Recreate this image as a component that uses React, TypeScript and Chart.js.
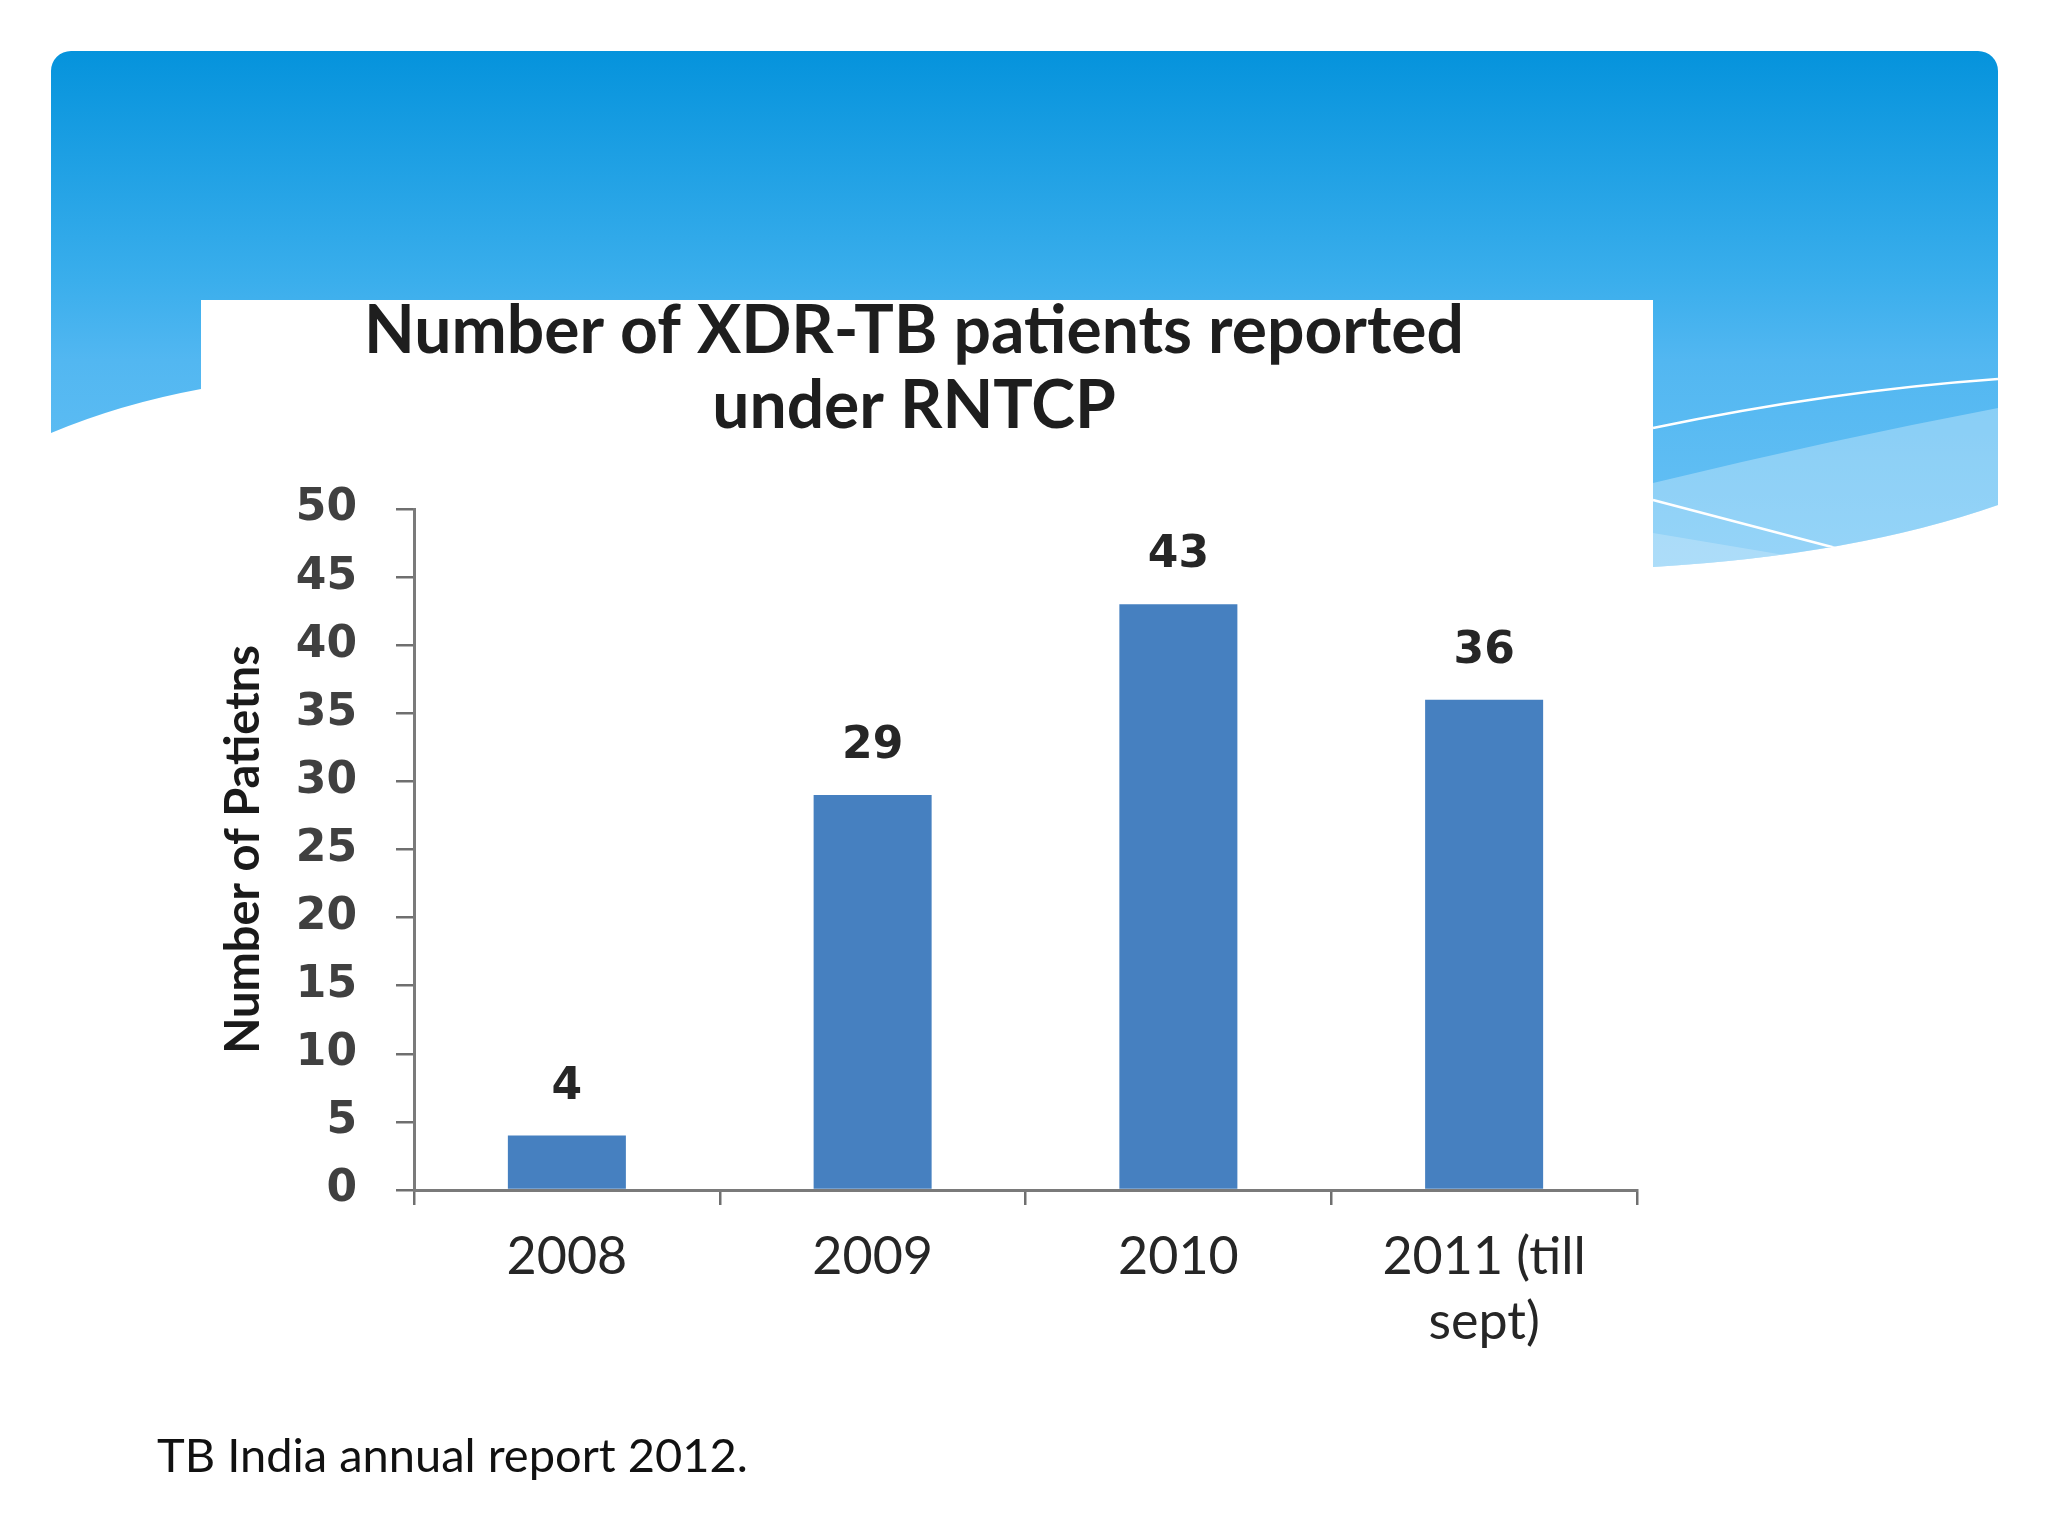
import { useEffect, useRef } from 'react';
import { Chart, registerables } from 'chart.js';

Chart.register(...registerables);

// Chart data
const categories: string[][] = [['2008'], ['2009'], ['2010'], ['2011 (till', 'sept)']];
const patients: number[] = [4, 29, 43, 36];
const yMin = 0;
const yMax = 50;
const yStep = 5;
const titleLines = ['Number of XDR-TB patients reported', 'under RNTCP'];
const yAxisTitle = 'Number of Patietns';
const footnote = 'TB India annual report 2012.';

const W = 2048;
const H = 1536;

// Slide backdrop: blue gradient banner with white waves, white panel for the chart
const slideBackground = {
  id: 'slideBackground',
  beforeDraw(chart: any) {
    const ctx: CanvasRenderingContext2D = chart.ctx;
    ctx.save();
    ctx.fillStyle = '#ffffff';
    ctx.fillRect(0, 0, W, H);

    const banner = new Path2D();
    banner.moveTo(51, 433);
    banner.lineTo(51, 71);
    banner.arcTo(51, 51, 71, 51, 20);
    banner.lineTo(1978, 51);
    banner.arcTo(1998, 51, 1998, 71, 20);
    banner.lineTo(1998, 505);
    banner.quadraticCurveTo(1855, 555, 1653, 567);
    banner.lineTo(1653, 420);
    banner.lineTo(201, 420);
    banner.lineTo(201, 389);
    banner.quadraticCurveTo(120, 404, 51, 433);
    banner.closePath();

    const g = ctx.createLinearGradient(0, 51, 0, 567);
    g.addColorStop(0, 'rgb(5,147,220)');
    g.addColorStop(0.444, 'rgb(58,174,236)');
    g.addColorStop(0.6, 'rgb(82,183,241)');
    g.addColorStop(1, 'rgb(105,194,245)');
    ctx.fillStyle = g;
    ctx.fill(banner);

    ctx.save();
    ctx.clip(banner);
    // lighter bands
    ctx.fillStyle = 'rgba(255,255,255,0.3)';
    ctx.beginPath();
    ctx.moveTo(1653, 483);
    ctx.quadraticCurveTo(1830, 440, 1998, 408);
    ctx.lineTo(1998, 620);
    ctx.lineTo(1653, 620);
    ctx.closePath();
    ctx.fill();

    ctx.fillStyle = 'rgba(255,255,255,0.22)';
    ctx.beginPath();
    ctx.moveTo(1653, 533);
    ctx.lineTo(1850, 566);
    ctx.lineTo(1850, 620);
    ctx.lineTo(1653, 620);
    ctx.closePath();
    ctx.fill();

    // thin white wave lines
    ctx.strokeStyle = '#ffffff';
    ctx.lineWidth = 2.5;
    ctx.beginPath();
    ctx.moveTo(1653, 428);
    ctx.quadraticCurveTo(1830, 391, 1998, 379);
    ctx.stroke();

    ctx.beginPath();
    ctx.moveTo(1653, 500);
    ctx.lineTo(1870, 557);
    ctx.stroke();
    ctx.restore();

    // white chart panel
    ctx.fillStyle = '#ffffff';
    ctx.fillRect(201, 300, 1452, 1100);

    ctx.restore();
  },
  afterDraw(chart: any) {
    const ctx: CanvasRenderingContext2D = chart.ctx;
    ctx.save();
    ctx.font = '47px Lato';
    ctx.fillStyle = '#111111';
    ctx.textAlign = 'left';
    ctx.textBaseline = 'alphabetic';
    ctx.fillText(footnote, 157, 1472);
    ctx.restore();
  },
};

// Value labels above each bar
const barValueLabels = {
  id: 'barValueLabels',
  afterDatasetsDraw(chart: any) {
    const ctx: CanvasRenderingContext2D = chart.ctx;
    const meta = chart.getDatasetMeta(0);
    const values = chart.data.datasets[0].data as number[];
    ctx.save();
    ctx.font = 'bold 44px "DejaVu Sans"';
    ctx.fillStyle = '#262626';
    ctx.textAlign = 'center';
    ctx.textBaseline = 'alphabetic';
    meta.data.forEach((bar: any, i: number) => {
      ctx.fillText(String(values[i]), bar.x, bar.y - 37);
    });
    ctx.restore();
  },
};

export default function App() {
  const canvasRef = useRef<HTMLCanvasElement | null>(null);

  useEffect(() => {
    if (!canvasRef.current) return;
    const chart = new Chart(canvasRef.current, {
      type: 'bar',
      data: {
        labels: categories,
        datasets: [
          {
            data: patients,
            backgroundColor: '#4680C0',
            borderWidth: 0,
            categoryPercentage: 1,
            barPercentage: 0.386,
          },
        ],
      },
      options: {
        responsive: false,
        animation: false,
        events: [],
        layout: { padding: { left: 191, right: 411, top: 0, bottom: 146 } },
        plugins: {
          legend: { display: false },
          tooltip: { enabled: false },
          title: {
            display: true,
            text: titleLines,
            color: '#1e1e1e',
            font: { family: 'Lato', size: 66, weight: 'bold', lineHeight: 75 / 66 },
            padding: { top: 294, bottom: 65 },
          },
        },
        scales: {
          x: {
            afterFit: (s: any) => {
              s.height = 200;
            },
            grid: {
              offset: true,
              drawOnChartArea: false,
              drawTicks: true,
              tickLength: 15,
              color: '#6f6f6f',
              lineWidth: 2.5,
            },
            border: { display: true, color: '#7a7a7a', width: 3 },
            ticks: {
              color: '#262626',
              padding: 20,
              maxRotation: 0,
              autoSkip: false,
              font: { family: 'Lato', size: 52, lineHeight: 65 / 52 },
            },
          },
          y: {
            min: yMin,
            max: yMax,
            afterFit: (s: any) => {
              s.width = 223;
            },
            grid: {
              drawOnChartArea: false,
              drawTicks: true,
              tickLength: 18,
              color: '#6f6f6f',
              lineWidth: 2.5,
            },
            border: { display: true, color: '#7a7a7a', width: 3 },
            ticks: {
              stepSize: yStep,
              color: '#404040',
              padding: 39,
              font: { family: 'DejaVu Sans', size: 44, weight: 'bold' },
            },
            title: {
              display: true,
              text: yAxisTitle,
              color: '#1a1a1a',
              font: { family: 'Lato', size: 47, weight: 'bold', lineHeight: 1.2 },
              padding: { top: 25, bottom: 0 },
            },
          },
        },
      },
      plugins: [slideBackground, barValueLabels],
    });
    return () => chart.destroy();
  }, []);

  return (
    <div style={{ position: 'absolute', left: 0, top: 0, width: W, height: H, background: '#fff' }}>
      <canvas ref={canvasRef} width={W} height={H} style={{ display: 'block', width: W, height: H }} />
    </div>
  );
}
